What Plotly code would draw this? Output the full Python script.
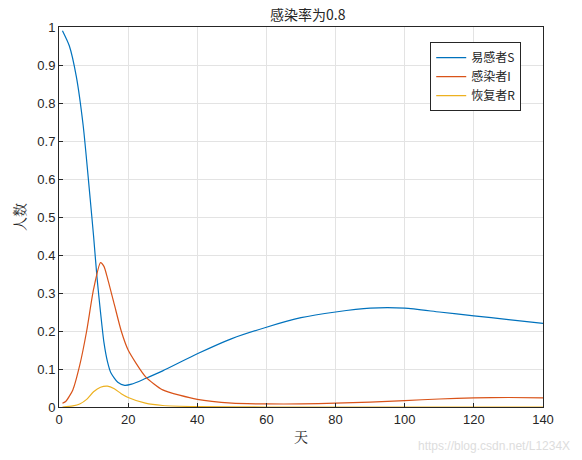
import plotly.graph_objects as go

s_day = [1,3,5,7,9,10,11,12,13,14,15,17,19,21,25,30,40,50,60,70,80,90,100,110,120,130,140]
s_val = [0.99,0.95,0.87,0.74,0.55,0.45,0.34,0.25,0.17,0.12,0.09,0.065,0.057,0.06,0.075,0.095,0.14,0.18,0.21,0.235,0.25,0.26,0.26,0.25,0.24,0.23,0.22]
i_day = [1,2,4,6,8,10,12,13,14,16,18,20,25,30,40,50,60,70,80,90,100,110,120,130,140]
i_val = [0.01,0.015,0.045,0.11,0.2,0.31,0.38,0.37,0.34,0.27,0.2,0.15,0.08,0.045,0.02,0.01,0.008,0.008,0.01,0.013,0.017,0.021,0.024,0.025,0.024]
r_day = [1,4,6,8,10,12,14,16,18,20,25,30,40,60,140]
r_val = [0,0.003,0.008,0.02,0.04,0.052,0.055,0.048,0.035,0.025,0.01,0.004,0.001,0,0]
x_ticks = list(range(0, 141, 20))
y_ticks = [round(i*0.1, 1) for i in range(11)]

fig = go.Figure()
for d, v, name, c in [(s_day, s_val, "易感者S", "#0072BD"),
                      (i_day, i_val, "感染者I", "#D95319"),
                      (r_day, r_val, "恢复者R", "#EDB120")]:
    fig.add_trace(go.Scatter(x=d, y=v, name=name, mode="lines",
                             line=dict(color=c, width=1.2, shape="spline", smoothing=0.6)))

ax = dict(showgrid=True, gridcolor="#e3e3e3", showline=True, linecolor="#262626",
          mirror=True, ticks="inside", ticklen=4, tickcolor="#262626", zeroline=False,
          tickfont=dict(family="Arial, Liberation Sans", size=13, color="#262626"))
fig.update_layout(
    width=582, height=460, paper_bgcolor="white", plot_bgcolor="white",
    margin=dict(l=49, r=47, t=15, b=61),
    title=dict(text="感染率为0.8", x=0.515, xanchor="center", y=0.995, yanchor="top",
               font=dict(family="Noto Sans CJK SC", size=14, color="#262626")),
    xaxis=dict(ax, range=[0, 140], tickvals=x_ticks,
               title=dict(text="天", standoff=6, font=dict(family="Noto Serif CJK SC, Noto Sans CJK SC", size=14, color="#262626"))),
    yaxis=dict(ax, range=[0, 1], tickvals=y_ticks, ticktext=[f"{t:g}" for t in y_ticks],
               title=dict(text="人数", standoff=8, font=dict(family="Noto Serif CJK SC, Noto Sans CJK SC", size=14, color="#262626"))),
    legend=dict(x=0.955, y=0.96, xanchor="right", yanchor="top", bgcolor="white",
                bordercolor="#262626", borderwidth=1, tracegroupgap=0,
                font=dict(family="Noto Sans CJK SC", size=12, color="#262626")),
    showlegend=True,
)
fig.add_annotation(text="https://blog.csdn.net/L1234X", xref="paper", yref="paper",
                   x=1.06, y=-0.125, xanchor="right", yanchor="bottom", showarrow=False,
                   font=dict(family="Arial", size=12, color="#dddddd"))
fig.write_html("out.html")
